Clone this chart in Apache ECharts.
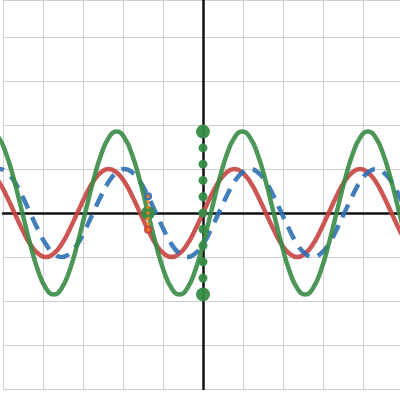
<!DOCTYPE html>
<html>
<head>
<meta charset="utf-8">
<script src="https://cdn.jsdelivr.net/npm/echarts@6/dist/echarts.min.js"></script>
<style>html,body{margin:0;padding:0;background:#fff}#chart{width:400px;height:400px}</style>
</head>
<body>
<div id="chart"></div>
<script>
var redCycle   = [0, .38, .71, .92, 1, .92, .71, .38, 0, -.38, -.71, -.92, -1, -.92, -.71, -.38];
var blueCycle  = [-.71, -.38, 0, .38, .71, .92, 1, .92, .71, .38, 0, -.38, -.71, -.92, -1, -.92];
var greenCycle = [-.71, 0, .71, 1.31, 1.71, 1.85, 1.71, 1.31, .71, 0, -.71, -1.31, -1.71, -1.85, -1.71, -1.31];
var step = Math.PI / 16;
var kFrom = -27, kTo = 26;

// dotted segments
var greenDotsY = [1.85, 1.48, 1.11, .74, .37, 0, -.37, -.74, -1.11, -1.48, -1.85];
var greenDotsX = 0;
var probeX = -1.374;
var orangeDotsY = [.38, .25, .13, 0, -.13, -.25, -.38];
var probeRed = -0.38, probeBlue = 0.38, probeGreen = 0;

function curve(cycle) {
    var out = [];
    for (var k = kFrom; k <= kTo; k++) {
        out.push([k * step, cycle[((k % 16) + 16) % 16]]);
    }
    return out;
}

var chart = echarts.init(document.getElementById('chart'));
var lineStyleBase = {width: 4.5, opacity: 0.9};
var option = {
    animation: false,
    grid: {left: 3, right: 0, top: 0, bottom: 11},
    xAxis: {
        type: 'value', min: -5, max: 4.925, interval: 1,
        axisLabel: {show: false}, axisTick: {show: false},
        axisLine: {show: true, onZero: true, lineStyle: {color: '#111', width: 2.5}},
        splitLine: {show: true, lineStyle: {color: '#cfcfcf', width: 1}}
    },
    yAxis: {
        type: 'value', min: -4, max: 4.841, interval: 1,
        axisLabel: {show: false}, axisTick: {show: false},
        axisLine: {show: true, onZero: true, lineStyle: {color: '#111', width: 2.5}},
        splitLine: {show: true, lineStyle: {color: '#cfcfcf', width: 1}}
    },
    series: [
        {type: 'line', data: curve(redCycle), smooth: true, showSymbol: false, clip: true,
         lineStyle: Object.assign({color: '#c74440'}, lineStyleBase)},
        {type: 'line', data: curve(blueCycle), smooth: true, showSymbol: false, clip: true,
         lineStyle: Object.assign({color: '#2d70b3', type: [14, 9]}, lineStyleBase)},
        {type: 'line', data: curve(greenCycle), smooth: true, showSymbol: false, clip: true,
         lineStyle: Object.assign({color: '#388c46'}, lineStyleBase)},
        {type: 'scatter', z: 5,
         data: greenDotsY.map(function (y) { return [greenDotsX, y]; }),
         symbolSize: function (v, p) { return (p.dataIndex === 0 || p.dataIndex === greenDotsY.length - 1) ? 14 : 9; },
         itemStyle: {color: '#388c46', opacity: 0.95}},
        {type: 'scatter', z: 5, data: [[probeX, probeGreen]], symbolSize: 14,
         itemStyle: {color: '#388c46', opacity: 0.95}},
        {type: 'scatter', z: 6, data: [[probeX, probeRed]], symbolSize: 8,
         itemStyle: {color: '#c74440', opacity: 0.95}},
        {type: 'scatter', z: 6, data: [[probeX, probeBlue]], symbolSize: 8,
         itemStyle: {color: '#2d70b3', opacity: 0.95}},
        {type: 'scatter', z: 7, data: orangeDotsY.map(function (y) { return [probeX, y]; }), symbolSize: 4,
         itemStyle: {color: '#fa7e19'}}
    ]
};
chart.setOption(option);
</script>
</body>
</html>
